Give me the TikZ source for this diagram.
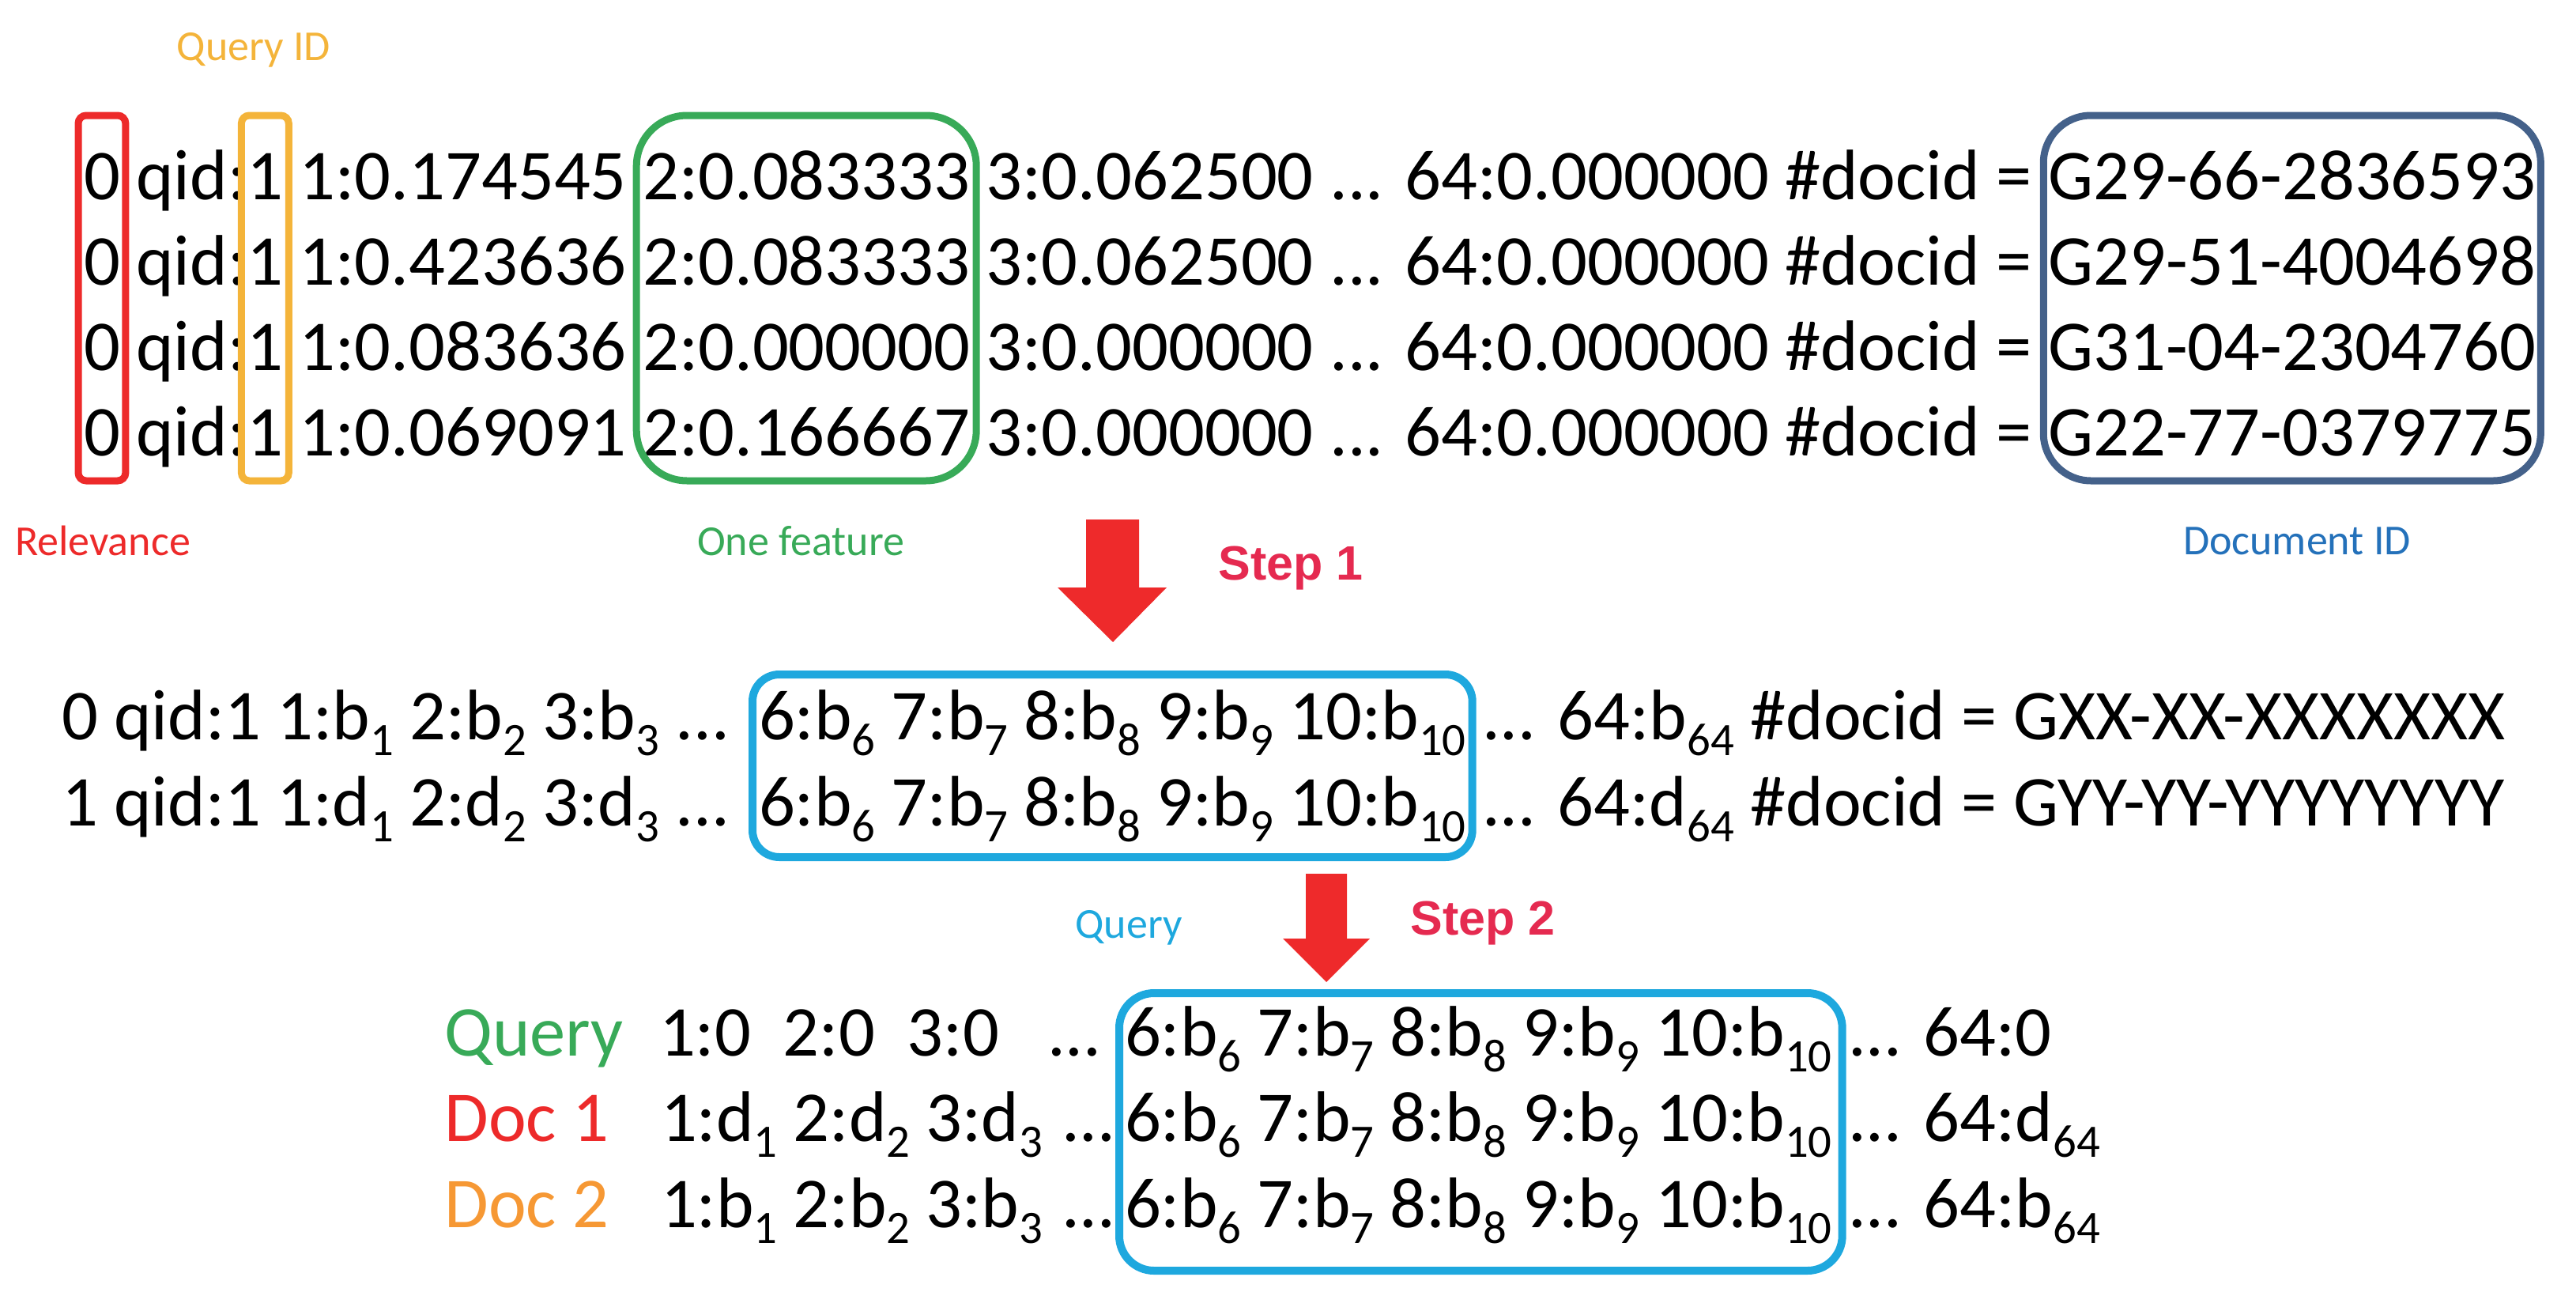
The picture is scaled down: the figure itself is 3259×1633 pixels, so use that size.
\documentclass[tikz,border=0pt]{standalone}
\usepackage{fontspec}
\setmainfont{Carlito}
\newfontfamily\stepfont{Liberation Sans}
\usetikzlibrary{fit}
\definecolor{cRed}{RGB}{237,42,42}
\definecolor{cGold}{RGB}{244,180,58}
\definecolor{cGreen}{RGB}{56,170,88}
\definecolor{cNavy}{RGB}{68,97,138}
\definecolor{cBlue}{RGB}{36,113,186}
\definecolor{cCyan}{RGB}{30,168,222}
\definecolor{cStep}{RGB}{229,42,80}
\definecolor{cArrow}{RGB}{238,42,43}
\definecolor{cOrange}{RGB}{246,152,52}
\newcommand\sbs[1]{\raisebox{-10pt}{\fontsize{29.4}{30}\selectfont #1}}
\newcommand\tsp{\kern\fontdimen2\font}
\begin{document}
\begin{tikzpicture}[x=0.5pt,y=-0.5pt,
  txt/.style={font=\fontsize{45.25}{54}\selectfont, inner sep=0pt, outer sep=0pt,
              anchor=base west, text height=34pt, text depth=11pt},
  lbl/.style={font=\fontsize{27}{32}\selectfont, inner sep=0pt, anchor=base},
  biglbl/.style={font=\fontsize{45.25}{54}\selectfont, inner sep=0pt, anchor=base west},
  stepl/.style={font=\stepfont\bfseries\fontsize{30.5}{36}\selectfont, text=cStep,
                inner sep=0pt, anchor=base west},
  hlbox/.style={draw=#1, line width=4.5pt, inner sep=0pt},
  cybox/.style={draw=cCyan, line width=5pt, inner sep=0pt},
  blockarrow/.style={fill=cArrow, draw=none}]
\useasboundingbox (0,0) rectangle (3259,1633);

% ---------- top block: four raw lines ----------
\foreach \i/\yy/\fa/\fb/\fc/\fd/\did in {
  1/252/0.174545/0.083333/0.062500/0.000000/G29-66-2836593,
  2/360/0.423636/0.083333/0.062500/0.000000/G29-51-4004698,
  3/468/0.083636/0.000000/0.000000/0.000000/G31-04-2304760,
  4/576/0.069091/0.166667/0.000000/0.000000/G22-77-0379775}{
  \node[txt] (t\i a) at (106,\yy) {0};
  \node[txt] (t\i b) at (t\i a.base east) {\ qid:};
  \node[txt] (t\i c) at (t\i b.base east) {1};
  \node[txt] (t\i d) at (t\i c.base east) {\ 1:\fa\tsp};
  \node[txt] (t\i e) at (t\i d.base east) {2:\fb};
  \node[txt] (t\i f) at (t\i e.base east) {\ 3:\fc\ ... 64:\fd\ \#docid =\tsp};
  \node[txt] (t\i g) at (t\i f.base east) {\did};
}

\node[hlbox=cRed, rounded corners=5pt, fit=(t1a)(t4a), inner xsep=3.5pt, inner ysep=12pt, yshift=7pt] (relbox) {};
\node[hlbox=cGold, rounded corners=5pt, fit=(t1c)(t4c), inner xsep=3.5pt, inner ysep=12pt, yshift=7pt] (qidbox) {};
\node[hlbox=cGreen, rounded corners=32pt, fit=(t1e)(t4e), inner xsep=4pt, inner ysep=12pt, yshift=7pt] (featbox) {};
\node[hlbox=cNavy, rounded corners=30pt, fit=(t1g)(t4g), inner xsep=3pt, inner ysep=12pt, yshift=7pt] (docbox) {};

\node[lbl, text=cGold] (lqid) at (321,76) {Query ID};
\node[lbl, text=cRed] (lrel) at (130,702) {Relevance};
\node[lbl, text=cGreen] (lfeat) at (1013,702) {One feature};
\node[lbl, text=cBlue] (ldoc) at (2906,701) {Document ID};

% ---------- step 1 ----------
\fill[blockarrow] (1374,657) -- (1441,657) -- (1441,743) -- (1476,743) -- (1408,812)
  -- (1338,743) -- (1374,743) -- cycle;
\node[stepl] (step1) at (1541,733) {Step 1};

% ---------- middle block: binarised pair ----------
\node[txt] (m1a) at (78,935) {0 qid:1 1:b\sbs{1} 2:b\sbs{2} 3:b\sbs{3} ...};
\node[txt] (m1b) at (960,935) {6:b\sbs{6} 7:b\sbs{7} 8:b\sbs{8} 9:b\sbs{9} 10:b\sbs{10}};
\node[txt] (m1c) at (m1b.base east) {\ ... 64:b\sbs{64} \#docid = GXX-XX-XXXXXXX};
\node[txt] (m2a) at (78,1044) {1 qid:1 1:d\sbs{1} 2:d\sbs{2} 3:d\sbs{3} ...};
\node[txt] (m2b) at (960,1044) {6:b\sbs{6} 7:b\sbs{7} 8:b\sbs{8} 9:b\sbs{9} 10:b\sbs{10}};
\node[txt] (m2c) at (m2b.base east) {\ ... 64:d\sbs{64} \#docid = GYY-YY-YYYYYYYY};

\node[cybox, rounded corners=17pt, fit=(m1b)(m2b), inner xsep=4pt, inner ysep=8pt, yshift=-1pt] (midbox) {};
\node[lbl, text=cCyan] (lquery) at (1428,1186) {Query};

% ---------- step 2 ----------
\fill[blockarrow] (1652,1105) -- (1704,1105) -- (1704,1187) -- (1733,1187) -- (1678,1242)
  -- (1623,1187) -- (1652,1187) -- cycle;
\node[stepl] (step2) at (1784,1182) {Step 2};

% ---------- bottom block: query and documents ----------
\node[biglbl, text=cGreen] (bq) at (562,1335) {Query};
\node[biglbl, text=cRed] (bd1) at (562,1443) {Doc 1};
\node[biglbl, text=cOrange] (bd2) at (562,1552) {Doc 2};

\node[txt] (b1a) at (834,1335) {1:0\ \ 2:0\ \ 3:0};
\node[txt] (b1e) at (1325,1335) {...};
\node[txt] (b1b) at (1423,1335) {6:b\sbs{6} 7:b\sbs{7} 8:b\sbs{8} 9:b\sbs{9} 10:b\sbs{10}};
\node[txt] (b1c) at (b1b.base east) {\ ... 64:0};
\node[txt] (b2a) at (836,1443) {1:d\sbs{1} 2:d\sbs{2} 3:d\sbs{3}};
\node[txt] (b2e) at (1343,1443) {...};
\node[txt] (b2b) at (1423,1443) {6:b\sbs{6} 7:b\sbs{7} 8:b\sbs{8} 9:b\sbs{9} 10:b\sbs{10}};
\node[txt] (b2c) at (b2b.base east) {\ ... 64:d\sbs{64}};
\node[txt] (b3a) at (836,1552) {1:b\sbs{1} 2:b\sbs{2} 3:b\sbs{3}};
\node[txt] (b3e) at (1343,1552) {...};
\node[txt] (b3b) at (1423,1552) {6:b\sbs{6} 7:b\sbs{7} 8:b\sbs{8} 9:b\sbs{9} 10:b\sbs{10}};
\node[txt] (b3c) at (b3b.base east) {\ ... 64:b\sbs{64}};

\node[cybox, rounded corners=22pt, fit=(b1b)(b3b), inner xsep=5pt, inner ysep=11pt, yshift=-5.5pt, xshift=1.5pt] (botbox) {};
\end{tikzpicture}
\end{document}
